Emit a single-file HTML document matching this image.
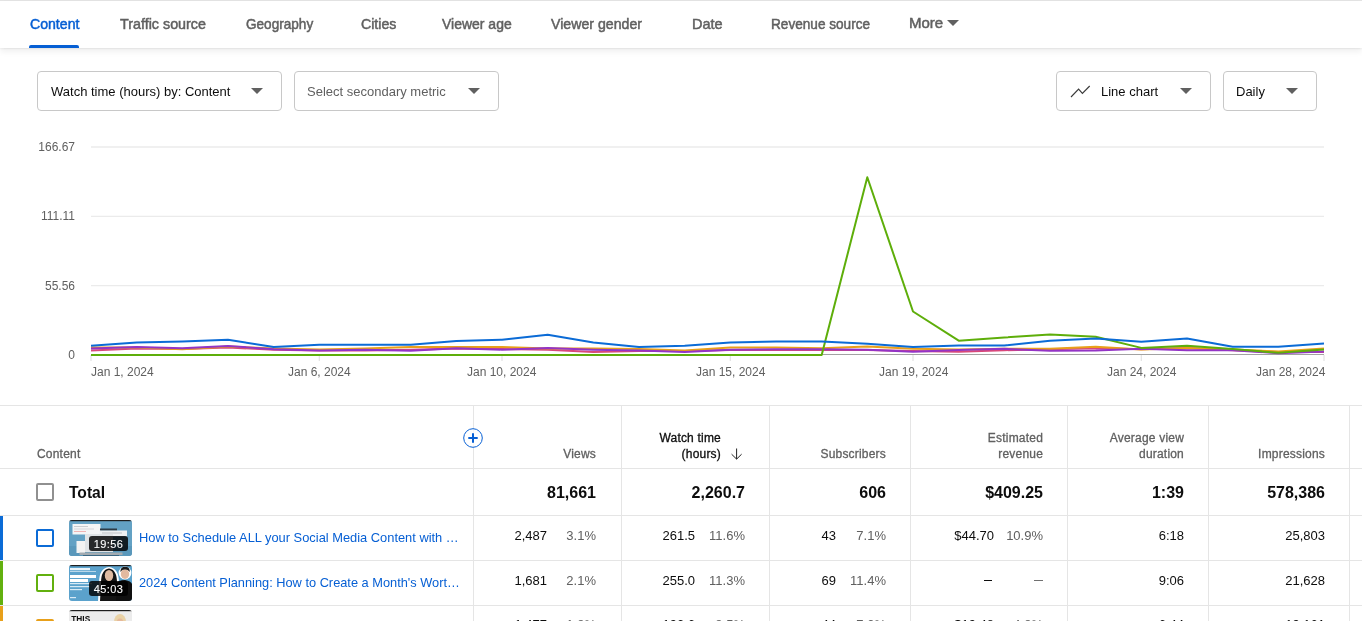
<!DOCTYPE html>
<html><head><meta charset="utf-8">
<style>
*{box-sizing:border-box;margin:0;padding:0}
html,body{width:1362px;height:621px;overflow:hidden;background:#fff;font-family:"Liberation Sans",sans-serif;color:#0d0d0d;position:relative}
.abs{position:absolute;white-space:nowrap}
#topline{left:0;top:0;width:1362px;height:1px;background:#e3e3e3}
#tabbar{left:0;top:1px;width:1362px;height:47px;background:#fff;box-shadow:0 1.5px 1.5px rgba(0,0,0,0.05), 0 4px 6px rgba(0,0,0,0.06)}
.tab{font-size:15px;color:#606060;top:15px;line-height:18px;-webkit-text-stroke:0.5px #606060;transform-origin:0 0}
.tab.sel{color:#065fd4;-webkit-text-stroke:0.5px #065fd4}
#uline{left:29px;top:45px;width:50px;height:3px;background:#065fd4;border-radius:2px 2px 0 0}
.dd{border:1px solid #c8c8c8;border-radius:4px;height:40px;top:71px;background:#fff}
.dd .t{position:absolute;top:12px;font-size:13px;line-height:16px;color:#0d0d0d;white-space:nowrap}
.tri{position:absolute;width:0;height:0;border-left:6px solid transparent;border-right:6px solid transparent;border-top:6px solid #606060}
.ylab{font-size:12px;color:#606060;line-height:14px;text-align:right;width:60px;left:15px}
.xlab{font-size:12px;color:#606060;line-height:14px;top:365px}
.hdr{font-size:12px;line-height:16px;color:#606060;text-align:right;-webkit-text-stroke:0.3px #606060;letter-spacing:0.2px}
.vline{width:1px;background:#e5e5e5;top:405px;height:216px}
.hline{height:1px;background:#e5e5e5;left:0;width:1362px}
.num{font-size:13px;line-height:16px;color:#0d0d0d;text-align:right}
.pct{font-size:13px;line-height:16px;color:#606060;text-align:right}
.tot{font-size:16px;line-height:20px;color:#0d0d0d;font-weight:bold;text-align:right}
.cb{width:18px;height:18px;border:2px solid;border-radius:2px;left:36px}
.thumb{left:69px;width:63px;height:36px;border-radius:3px;overflow:hidden}
.dur{position:absolute;background:rgba(0,0,0,0.82);color:#fff;font-size:11px;border-radius:3px;-webkit-text-stroke:0.1px #fff;letter-spacing:0.35px}
.title{font-size:13px;color:#065fd4;line-height:16px;left:140px}
.gs{position:absolute;left:0;top:0;width:1362px;height:621px;will-change:transform;background:transparent}</style></head><body><div class="gs">
<div class="abs" id="topline"></div>
<div class="abs" id="tabbar"></div>
<div class="abs tab sel" style="left:30px;transform:scaleX(0.94)">Content</div>
<div class="abs tab" style="left:120px;transform:scaleX(0.955)">Traffic source</div>
<div class="abs tab" style="left:246px;transform:scaleX(0.905)">Geography</div>
<div class="abs tab" style="left:361px;transform:scaleX(0.944)">Cities</div>
<div class="abs tab" style="left:442px;transform:scaleX(0.932)">Viewer age</div>
<div class="abs tab" style="left:551px;transform:scaleX(0.943)">Viewer gender</div>
<div class="abs tab" style="left:692px;transform:scaleX(0.966)">Date</div>
<div class="abs tab" style="left:771px;transform:scaleX(0.907)">Revenue source</div>
<div class="abs tab" style="left:909px;top:14px">More</div>
<div class="abs tri" style="left:947px;top:20px"></div>
<div class="abs" id="uline"></div>

<!-- dropdowns -->
<div class="abs dd" style="left:37px;width:245px"><span class="t" style="left:13px">Watch time (hours) by: Content</span><div class="tri" style="left:213px;top:16px"></div></div>
<div class="abs dd" style="left:294px;width:205px"><span class="t" style="left:12px;color:#606060">Select secondary metric</span><div class="tri" style="left:173px;top:16px"></div></div>
<div class="abs dd" style="left:1056px;width:155px">
<svg style="position:absolute;left:12px;top:12px" width="22" height="14" viewBox="1069 84 22 14"><polyline points="1071,97 1078.6,89.2 1082.4,93.3 1089.7,86" fill="none" stroke="#3a3a3a" stroke-width="1.15"/></svg>
<span class="t" style="left:44px">Line chart</span><div class="tri" style="left:123px;top:16px"></div></div>
<div class="abs dd" style="left:1223px;width:94px"><span class="t" style="left:12px">Daily</span><div class="tri" style="left:62px;top:16px"></div></div>

<!-- chart -->
<div class="abs ylab" style="top:140px">166.67</div>
<div class="abs ylab" style="top:209px">111.11</div>
<div class="abs ylab" style="top:279px">55.56</div>
<div class="abs ylab" style="top:348px">0</div>
<svg class="abs" style="left:0;top:0" width="1362" height="405" viewBox="0 0 1362 405">
<g stroke="#ebebeb" stroke-width="1.3">
<line x1="91" y1="147" x2="1324" y2="147"/>
<line x1="91" y1="216.3" x2="1324" y2="216.3"/>
<line x1="91" y1="285.7" x2="1324" y2="285.7"/>
</g>
<line x1="91" y1="354.5" x2="1324" y2="354.5" stroke="#a2a2a2" stroke-width="1"/>
<g stroke="#e3e3e3" stroke-width="1.2">
<line x1="91.0" y1="355" x2="91.0" y2="361"/>
<line x1="319.3" y1="355" x2="319.3" y2="361"/>
<line x1="502.0" y1="355" x2="502.0" y2="361"/>
<line x1="730.3" y1="355" x2="730.3" y2="361"/>
<line x1="913.0" y1="355" x2="913.0" y2="361"/>
<line x1="1141.3" y1="355" x2="1141.3" y2="361"/>
<line x1="1324.0" y1="355" x2="1324.0" y2="361"/>
</g>
<g fill="none" stroke-width="2" stroke-linejoin="round">
<polyline stroke="#d9487a" points="91.0,350.4 136.7,348.6 182.3,349.0 228.0,347.5 273.7,349.7 319.3,350.4 365.0,350.4 410.7,349.7 456.3,348.6 502.0,349.0 547.7,349.7 593.3,352.0 639.0,351.0 684.7,351.0 730.3,350.0 776.0,350.0 821.7,350.0 867.3,350.0 913.0,351.0 958.7,351.7 1004.3,350.2 1050.0,349.3 1095.7,348.2 1141.3,349.2 1187.0,347.9 1232.7,350.2 1278.3,352.0 1324.0,352.0"/>
<polyline stroke="#e8a01a" points="91.0,347.5 136.7,347.5 182.3,349.3 228.0,346.4 273.7,348.6 319.3,349.5 365.0,348.6 410.7,346.9 456.3,346.9 502.0,347.1 547.7,348.6 593.3,348.6 639.0,349.0 684.7,350.4 730.3,347.5 776.0,347.5 821.7,348.2 867.3,346.4 913.0,348.8 958.7,349.5 1004.3,348.8 1050.0,348.8 1095.7,346.8 1141.3,349.6 1187.0,347.9 1232.7,349.6 1278.3,351.4 1324.0,348.4"/>
<polyline stroke="#9334c6" points="91.0,348.6 136.7,346.9 182.3,348.2 228.0,346.0 273.7,349.3 319.3,350.4 365.0,349.7 410.7,350.8 456.3,348.2 502.0,349.7 547.7,348.0 593.3,349.7 639.0,350.4 684.7,352.0 730.3,349.7 776.0,349.3 821.7,349.3 867.3,349.7 913.0,351.7 958.7,350.0 1004.3,348.8 1050.0,350.7 1095.7,350.5 1141.3,348.8 1187.0,350.2 1232.7,350.2 1278.3,353.2 1324.0,351.4"/>
<polyline stroke="#5eae0a" points="91.0,355.0 136.7,355.0 182.3,355.0 228.0,355.0 273.7,355.0 319.3,355.0 365.0,355.0 410.7,355.0 456.3,355.0 502.0,355.0 547.7,355.0 593.3,355.0 639.0,355.0 684.7,355.0 730.3,355.0 776.0,355.0 821.7,355.0 867.3,177.2 913.0,311.5 958.7,340.7 1004.3,337.5 1050.0,334.6 1095.7,336.7 1141.3,347.9 1187.0,345.8 1232.7,349.1 1278.3,352.8 1324.0,349.6"/>
<polyline stroke="#0b6bd6" points="91.0,345.8 136.7,342.5 182.3,341.6 228.0,339.8 273.7,346.9 319.3,344.7 365.0,344.7 410.7,344.7 456.3,340.9 502.0,339.8 547.7,334.8 593.3,342.5 639.0,346.9 684.7,345.8 730.3,342.5 776.0,341.6 821.7,341.6 867.3,343.8 913.0,346.9 958.7,345.5 1004.3,345.5 1050.0,340.7 1095.7,338.6 1141.3,341.7 1187.0,338.5 1232.7,346.7 1278.3,346.7 1324.0,343.5"/>
</g>
</svg>
<div class="abs xlab" style="left:91px">Jan 1, 2024</div>
<div class="abs xlab" style="left:288px">Jan 6, 2024</div>
<div class="abs xlab" style="left:467px">Jan 10, 2024</div>
<div class="abs xlab" style="left:696px">Jan 15, 2024</div>
<div class="abs xlab" style="left:879px">Jan 19, 2024</div>
<div class="abs xlab" style="left:1107px">Jan 24, 2024</div>
<div class="abs xlab" style="left:1256px">Jan 28, 2024</div>

<!-- table -->
<div class="abs hline" style="top:405px"></div>
<div class="abs hline" style="top:468px"></div>
<div class="abs hline" style="top:515px"></div>
<div class="abs hline" style="top:560px"></div>
<div class="abs hline" style="top:605px"></div>
<div class="abs vline" style="left:473px"></div>
<div class="abs vline" style="left:621px"></div>
<div class="abs vline" style="left:769px"></div>
<div class="abs vline" style="left:910px"></div>
<div class="abs vline" style="left:1067px"></div>
<div class="abs vline" style="left:1208px"></div>
<div class="abs vline" style="left:1349px"></div>


<!-- header -->
<div class="abs hdr" style="left:37px;top:446px;text-align:left">Content</div>
<svg class="abs" style="left:462px;top:427px" width="22" height="22" viewBox="0 0 22 22"><circle cx="11" cy="11" r="9.3" fill="rgba(255,255,255,0.7)" stroke="#065fd4" stroke-width="1"/><path d="M11 6.3v9.4M6.3 11h9.4" stroke="#065fd4" stroke-width="2"/></svg>
<div class="abs hdr" style="right:766px;top:446px">Views</div>
<div class="abs hdr" style="right:641px;top:430px;color:#0d0d0d;-webkit-text-stroke:0.3px #0d0d0d">Watch time<br>(hours)</div>
<svg class="abs" style="left:731px;top:448px" width="12" height="12" viewBox="0 0 12 12"><path d="M5.6 0.5v10.5M0.6 6.2L5.6 11.1l5-4.9" fill="none" stroke="#222" stroke-width="1"/></svg>
<div class="abs hdr" style="right:476px;top:446px">Subscribers</div>
<div class="abs hdr" style="right:319px;top:430px">Estimated<br>revenue</div>
<div class="abs hdr" style="right:178px;top:430px">Average view<br>duration</div>
<div class="abs hdr" style="right:37px;top:446px">Impressions</div>

<!-- total row -->
<div class="abs cb" style="top:483px;border-color:#909090"></div>
<div class="abs tot" style="left:69px;top:483px;text-align:left;transform:scaleX(0.975);transform-origin:0 0">Total</div>
<div class="abs tot" style="right:766px;top:483px">81,661</div>
<div class="abs tot" style="right:617px;top:483px">2,260.7</div>
<div class="abs tot" style="right:476px;top:483px">606</div>
<div class="abs tot" style="right:319px;top:483px">$409.25</div>
<div class="abs tot" style="right:178px;top:483px">1:39</div>
<div class="abs tot" style="right:37px;top:483px">578,386</div>

<!-- row 1 -->
<div class="abs" style="left:0;top:516px;width:3px;height:44px;background:#0b6bd6"></div>
<div class="abs cb" style="top:529px;border-color:#0b6bd6"></div>
<div class="abs thumb" style="top:520px">
<svg width="63" height="36" viewBox="0 0 63 36">
<rect width="63" height="36" fill="#63a1c4"/>
<rect x="0" y="26" width="63" height="10" fill="#5a98bb"/>
<rect y="0" width="63" height="1.2" fill="#1e1e1e"/>
<rect x="3.5" y="4" width="28" height="10.5" fill="#f4f5f6"/>
<rect x="5" y="6" width="14" height="1" fill="#c9ccd0"/>
<rect x="5" y="8.5" width="20" height="1" fill="#d3d6da"/>
<rect x="5" y="11" width="12" height="1" fill="#f0b4b4"/>
<rect x="31" y="8.5" width="17" height="2.2" fill="#2d3a44"/>
<rect x="30.5" y="10.5" width="27.5" height="6" fill="#eef1f3"/>
<rect x="33" y="12.5" width="20" height="1" fill="#c0c4c8"/>
<rect x="16" y="14" width="28" height="18" fill="#dfe3e6"/>
<rect x="7.5" y="21" width="8.5" height="12" fill="#f3f3f3"/>
<rect x="10.5" y="32.5" width="43" height="2.5" fill="#a3abb1"/>
<rect x="14" y="35" width="36" height="1" fill="#3a6783"/>
</svg>
<div class="dur" style="left:20px;top:16px;width:39px;height:15px;padding:0.5px 0 0 0;text-align:center;line-height:15px">19:56</div>
</div>
<div class="abs title" style="top:530px;left:139px;transform:scaleX(0.989);transform-origin:0 0">How to Schedule ALL your Social Media Content with …</div>
<div class="abs num" style="right:815px;top:528px">2,487</div>
<div class="abs pct" style="right:766px;top:528px">3.1%</div>
<div class="abs num" style="right:667px;top:528px">261.5</div>
<div class="abs pct" style="right:617px;top:528px">11.6%</div>
<div class="abs num" style="right:526px;top:528px">43</div>
<div class="abs pct" style="right:476px;top:528px">7.1%</div>
<div class="abs num" style="right:368px;top:528px">$44.70</div>
<div class="abs pct" style="right:319px;top:528px">10.9%</div>
<div class="abs num" style="right:178px;top:528px">6:18</div>
<div class="abs num" style="right:37px;top:528px">25,803</div>

<!-- row 2 -->
<div class="abs" style="left:0;top:561px;width:3px;height:44px;background:#62b00e"></div>
<div class="abs cb" style="top:574px;border-color:#62b00e"></div>
<div class="abs thumb" style="top:565px">
<svg width="63" height="36" viewBox="0 0 63 36">
<rect width="63" height="36" fill="#5ba2cc"/>
<rect y="0" width="63" height="1.2" fill="#1e1e1e"/>
<rect x="1" y="3" width="20" height="2.2" fill="#eaf3f9"/>
<rect x="1" y="6" width="26" height="1" fill="#b9d8ea"/>
<rect x="1" y="10" width="26" height="3" fill="#ffffff"/>
<rect x="1" y="14" width="18" height="3" fill="#ffffff"/>
<rect x="1" y="18" width="22" height="1.2" fill="#d8eaf5"/>
<rect x="1" y="21" width="20" height="1.2" fill="#d8eaf5"/>
<rect x="1" y="24" width="12" height="1.2" fill="#d8eaf5"/>
<rect x="1" y="32" width="6" height="1.2" fill="#d8eaf5"/>
<path d="M29 36 L30 18 Q30 3 40 2 Q50 3 50 18 L51 36Z" fill="#fff"/>
<path d="M31 36 L32 18 Q32 4.5 40 3.5 Q48 4.5 48 18 L49 36Z" fill="#151515"/>
<ellipse cx="40" cy="10.5" rx="4.2" ry="5.5" fill="#dfbba2"/>
<path d="M47 36 L47 19 Q49 15 56 15 Q62 16 63 19 L63 36Z" fill="#101010"/>
<circle cx="56" cy="8" r="6.4" fill="#fff"/>
<ellipse cx="56" cy="9" rx="4.2" ry="5" fill="#e2b9a0"/>
<path d="M51.3 7 Q51.5 1.8 56 1.8 Q61 1.8 60.8 7 Q58.5 4.2 56 4.6 Q53.5 4.2 51.3 7Z" fill="#1a1a1a"/>
</svg>
<div class="dur" style="left:20px;top:16px;width:39px;height:15px;padding:0.5px 0 0 0;text-align:center;line-height:15px">45:03</div>
</div>
<div class="abs title" style="top:575px;left:139px;transform:scaleX(0.984);transform-origin:0 0">2024 Content Planning: How to Create a Month's Wort…</div>
<div class="abs num" style="right:815px;top:573px">1,681</div>
<div class="abs pct" style="right:766px;top:573px">2.1%</div>
<div class="abs num" style="right:667px;top:573px">255.0</div>
<div class="abs pct" style="right:617px;top:573px">11.3%</div>
<div class="abs num" style="right:526px;top:573px">69</div>
<div class="abs pct" style="right:476px;top:573px">11.4%</div>
<div class="abs" style="left:984px;top:580px;width:8px;height:1.3px;background:#0d0d0d"></div>
<div class="abs" style="left:1034px;top:580px;width:9px;height:1.3px;background:#707070"></div>
<div class="abs num" style="right:178px;top:573px">9:06</div>
<div class="abs num" style="right:37px;top:573px">21,628</div>

<!-- row 3 (partially visible) -->
<div class="abs" style="left:0;top:606px;width:3px;height:20px;background:#e8a01a"></div>
<div class="abs cb" style="top:619px;border-color:#e8a01a"></div>
<div class="abs thumb" style="top:610px">
<svg width="63" height="36" viewBox="0 0 63 36">
<rect width="63" height="36" fill="#ececec"/>
<rect y="0" width="63" height="1.2" fill="#1e1e1e"/>
<text x="2.3" y="11.5" font-family="Liberation Sans" font-weight="bold" font-size="8.3" fill="#111">THIS</text>
<ellipse cx="51" cy="12" rx="6" ry="8" fill="#e9d2a6"/>
<ellipse cx="51" cy="13" rx="3.5" ry="4.5" fill="#e6b99a"/>
</svg>
</div>
<div class="abs num" style="right:815px;top:617px">1,477</div>
<div class="abs pct" style="right:766px;top:617px">1.8%</div>
<div class="abs num" style="right:667px;top:617px">192.6</div>
<div class="abs pct" style="right:617px;top:617px">8.5%</div>
<div class="abs num" style="right:526px;top:617px">44</div>
<div class="abs pct" style="right:476px;top:617px">7.3%</div>
<div class="abs num" style="right:368px;top:617px">$19.48</div>
<div class="abs pct" style="right:319px;top:617px">4.8%</div>
<div class="abs num" style="right:178px;top:617px">6:44</div>
<div class="abs num" style="right:37px;top:617px">19,161</div>

</div></body></html>
